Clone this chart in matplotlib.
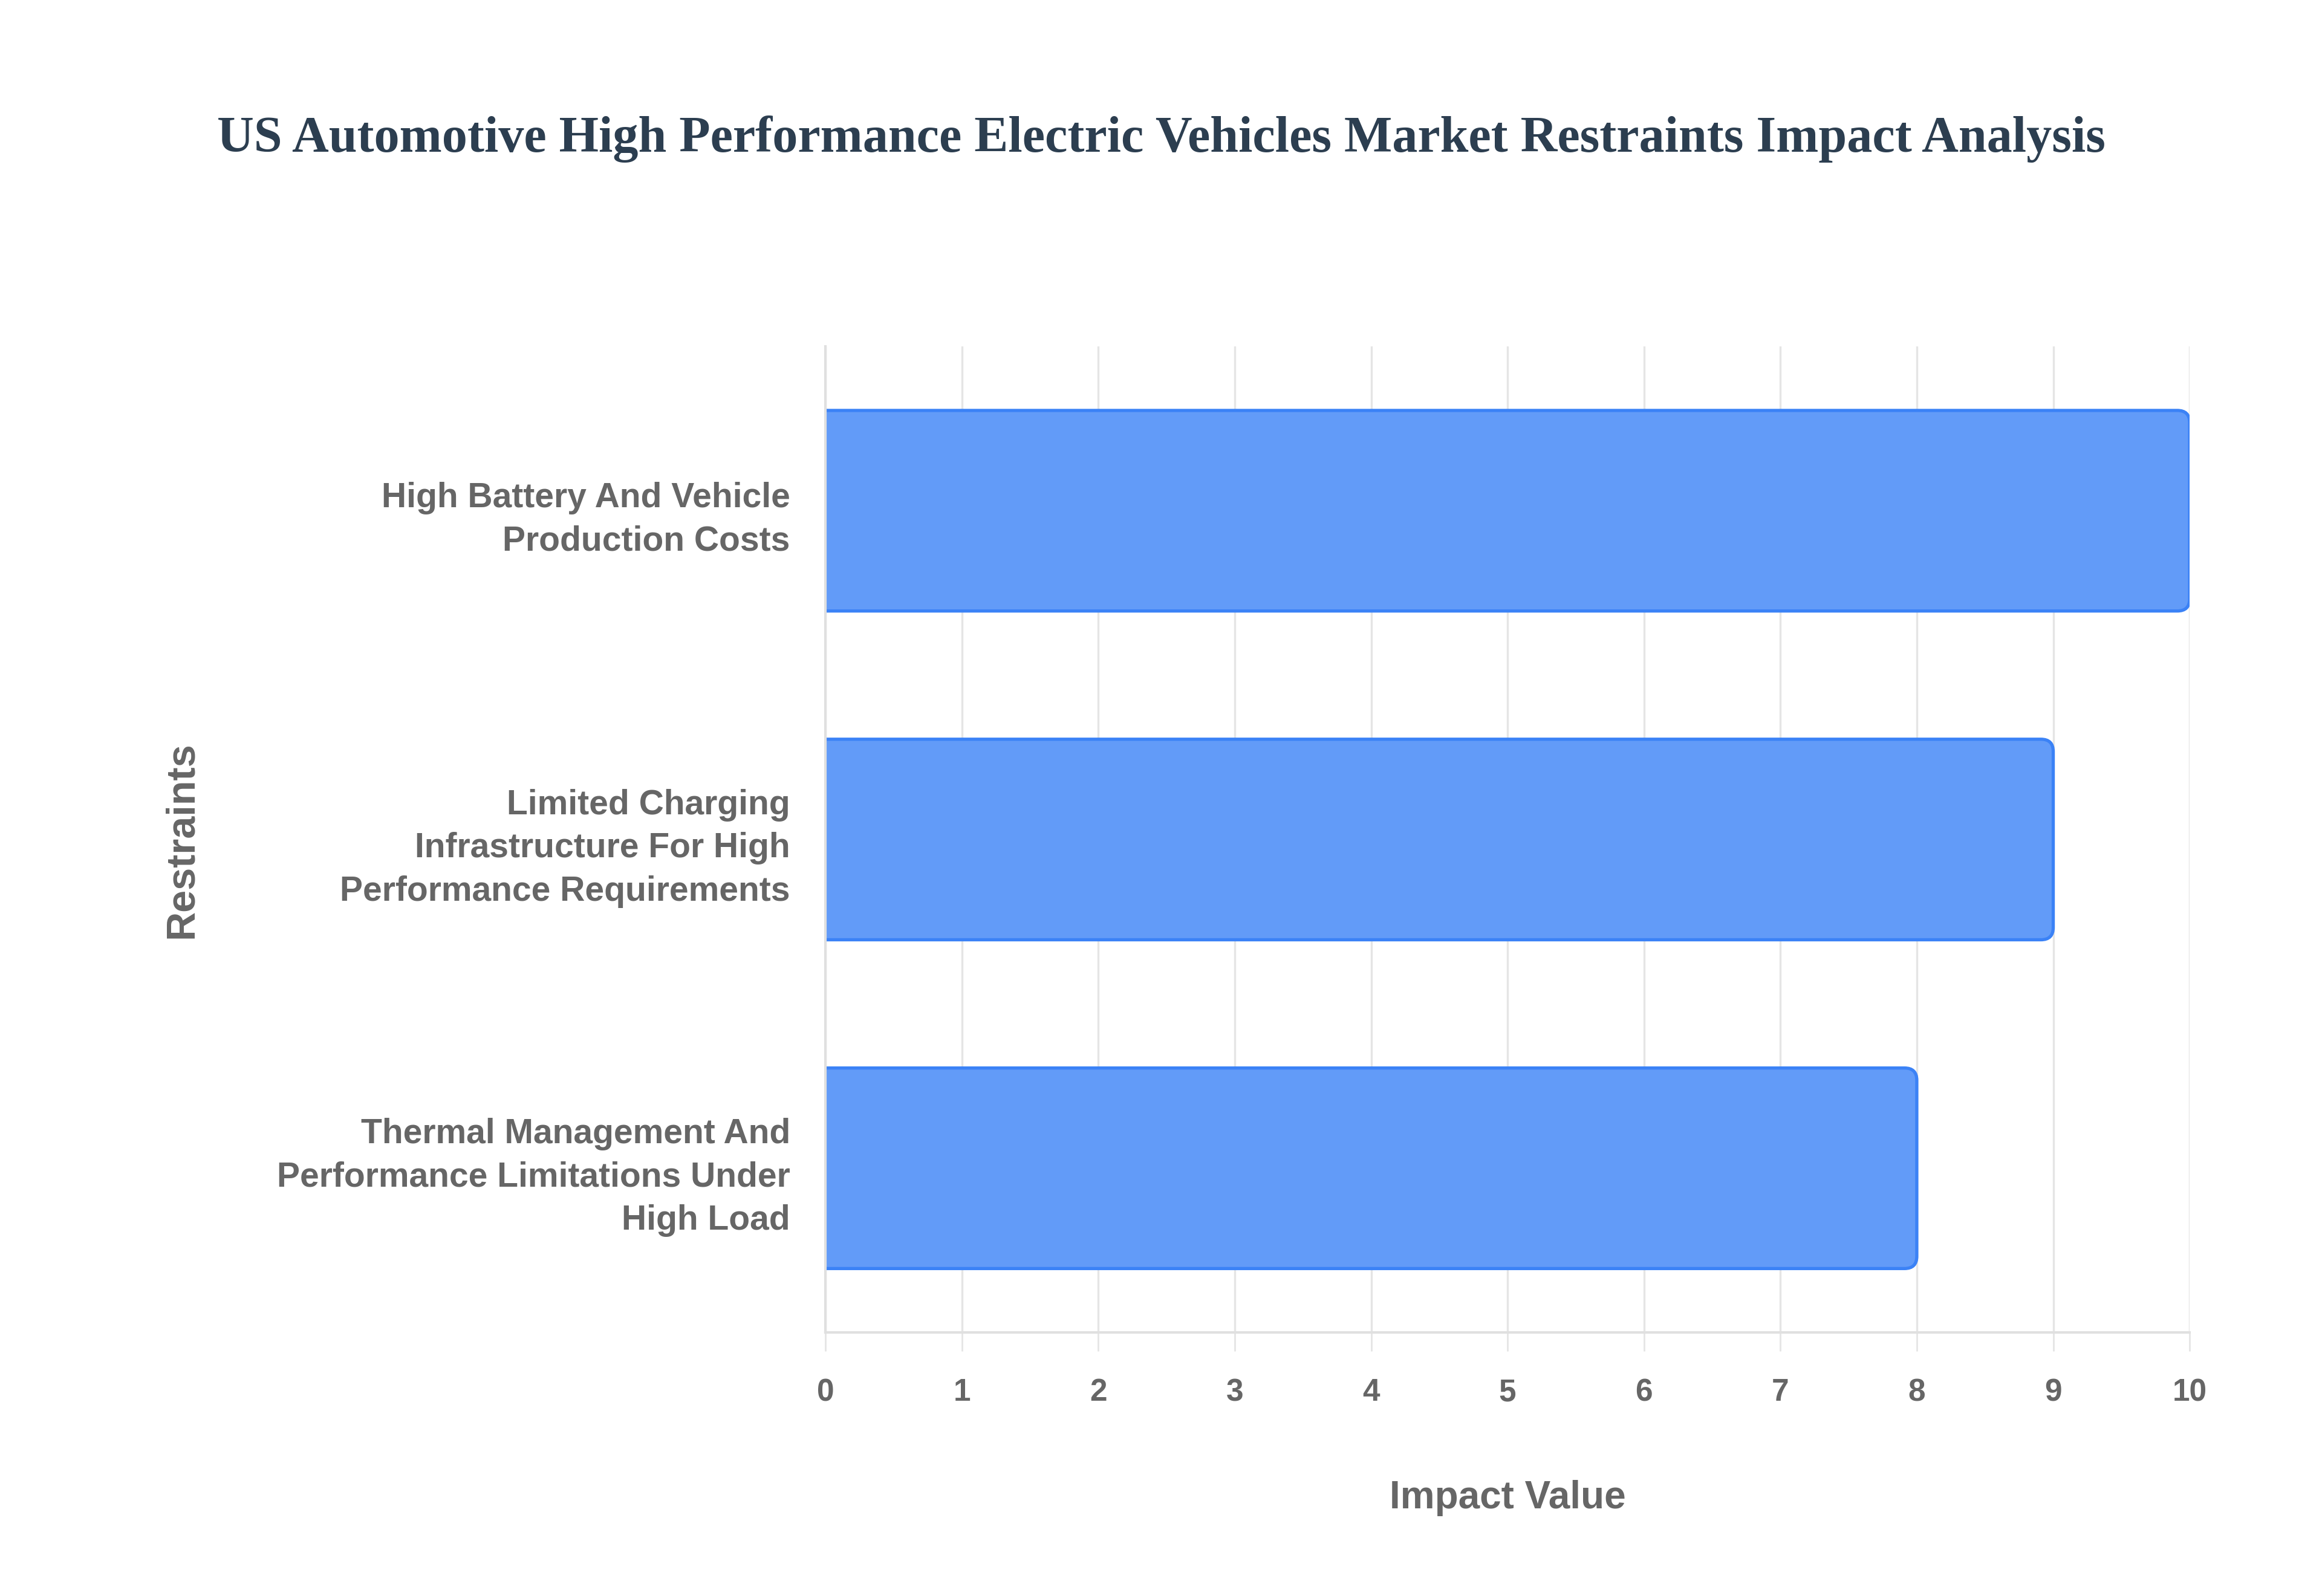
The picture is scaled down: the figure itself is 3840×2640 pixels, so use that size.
import matplotlib.pyplot as plt
from matplotlib.patches import FancyBboxPatch

restraints = [
    'High Battery And Vehicle\nProduction Costs',
    'Limited Charging\nInfrastructure For High\nPerformance Requirements',
    'Thermal Management And\nPerformance Limitations Under\nHigh Load',
]
impact = [10, 9, 8]
xticks = list(range(0, 11))

sans = ['Liberation Sans Narrow', 'Liberation Sans', 'DejaVu Sans']
grey = '#666666'
fill = (0.384, 0.608, 0.973)
edge = '#3b82f6'

fig = plt.figure(figsize=(19.2, 13.2), dpi=200)
ax = fig.add_axes([0.3555, 0.165, 0.5875, 0.618])

pos = list(range(len(restraints)))
ax.set_ylim(len(restraints) - 0.5, -0.5)
ax.set_xlim(0, 10)

# bars with rounded right end (left end pushed past the axis and clipped)
bars = ax.barh(pos, impact, height=0.61, color='none', edgecolor='none')
aspect = (3 / 0.618 / 13.2) / (10 / 0.5875 / 19.2)
for b in bars:
    x0, y0 = b.get_x(), b.get_y()
    w, h = b.get_width(), b.get_height()
    p = FancyBboxPatch((x0 - 0.3, y0), w + 0.3, h,
                       boxstyle='round,pad=0,rounding_size=0.09',
                       mutation_aspect=aspect, facecolor=fill, edgecolor=edge,
                       linewidth=1.9, zorder=3, clip_on=True)
    ax.add_patch(p)

ax.set_xticks(xticks)
ax.set_yticks(pos)
ax.set_yticklabels(restraints, fontfamily=sans, fontweight='bold', fontsize=20.5,
                   color=grey, linespacing=1.42)
ax.set_xticklabels([str(t) for t in xticks], fontfamily=sans, fontweight='bold',
                   fontsize=18.5, color=grey)
ax.tick_params(axis='x', length=11, width=1, color='#e5e5e5', pad=16)
ax.tick_params(axis='y', length=0, pad=21)

ax.grid(axis='x', color='#e5e5e5', linewidth=1.2, zorder=0)
for s in ['top', 'right']:
    ax.spines[s].set_visible(False)
for s in ['left', 'bottom']:
    ax.spines[s].set_color('#e0e0e0')
    ax.spines[s].set_linewidth(1.5)
    ax.spines[s].set_zorder(4)

ax.set_xlabel('Impact Value', fontfamily=sans, fontweight='bold', fontsize=23,
              color=grey, labelpad=43)
ax.set_ylabel('Restraints', fontfamily=sans, fontweight='bold', fontsize=24,
              color=grey)
ax.yaxis.set_label_coords(-0.458, 0.5)

fig.suptitle('US Automotive High Performance Electric Vehicles Market Restraints Impact Analysis',
             x=0.5, y=0.913, va='center', fontfamily=['Liberation Serif', 'DejaVu Serif'],
             fontweight='bold', fontsize=30.3, color='#2c3e50')

fig.savefig('out.png', dpi=200, facecolor='white')
